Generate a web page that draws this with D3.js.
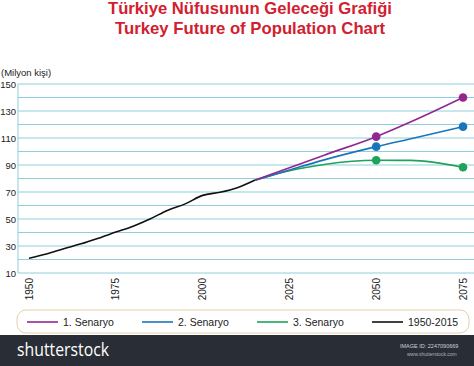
<!DOCTYPE html>
<html><head><meta charset="utf-8">
<script src="https://cdn.jsdelivr.net/npm/d3@7"></script>
<style>html,body{margin:0;padding:0;background:#fff;}svg{display:block;font-family:"Liberation Sans",Arial,sans-serif;}</style>
</head><body>
<script>
const histYears = [1950,1955,1960,1965,1970,1975,1980,1985,1990,1995,2000,2005,2010,2015];
const histValues = [20.9,24.0,28.0,31.6,35.8,40.3,44.7,50.2,56.5,61.2,67.5,69.8,73.2,78.7];
const scenYears = [2015,2025,2035,2050,2060,2075];
const scen1 = [78.7,88.0,97.3,111.0,122.0,140.0];
const scen2 = [78.7,86.3,93.8,103.6,109.5,118.4];
const scen3 = [78.7,85.8,90.4,93.5,93.4,88.3];
const dotYears = [2050,2075];
const xTicks = [1950,1975,2000,2025,2050,2075];
const yTickLabels = [10,30,50,70,90,110,130,150];
const gridValues = d3.range(10,151,10);
const legendLabels = ["1. Senaryo","2. Senaryo","3. Senaryo","1950-2015"];
const colors = ["#92278f","#1b75bb","#1fa25a","#111111"];

const W=474,H=366;
const svg=d3.select("body").append("svg").attr("width",W).attr("height",H);
const x=d3.scaleLinear().domain([1950,2075]).range([29,463]);
const y=d3.scaleLinear().domain([10,150]).range([273,84]);

// title
svg.append("text").attr("x",250).attr("y",14).attr("text-anchor","middle")
  .attr("font-size",16.5).attr("font-weight","bold").attr("fill","#d2202f")
  .attr("textLength",284).attr("lengthAdjust","spacingAndGlyphs")
  .text("Türkiye Nüfusunun Geleceği Grafiği");
svg.append("text").attr("x",250).attr("y",34).attr("text-anchor","middle")
  .attr("font-size",17).attr("font-weight","bold").attr("fill","#d2202f")
  .attr("textLength",270).attr("lengthAdjust","spacingAndGlyphs")
  .text("Turkey Future of Population Chart");

svg.append("text").attr("x",1).attr("y",76).attr("font-size",9.5).attr("fill","#222").text("(Milyon kişi)");

// grid
svg.append("g").selectAll("line").data(gridValues).join("line")
  .attr("x1",18).attr("x2",W).attr("y1",d=>y(d)).attr("y2",d=>y(d))
  .attr("stroke","#8fcfdc").attr("stroke-width",1);
svg.append("line").attr("x1",18).attr("x2",18).attr("y1",y(150)).attr("y2",y(10))
  .attr("stroke","#8fcfdc").attr("stroke-width",1);

// y labels
svg.append("g").selectAll("text").data(yTickLabels).join("text")
  .attr("x",16).attr("y",d=>y(d)+3.5).attr("text-anchor","end")
  .attr("font-size",9.5).attr("fill","#222").text(d=>d);

// x labels
svg.append("g").selectAll("text").data(xTicks).join("text")
  .attr("transform",d=>`translate(${x(d)+3.5},278) rotate(-90)`)
  .attr("text-anchor","end").attr("font-size",10).attr("fill","#222").text(d=>d);

const line=d3.line().x(d=>x(d[0])).y(d=>y(d[1])).curve(d3.curveMonotoneX);
const scens=[scen1,scen2,scen3];
scens.slice().reverse().forEach((s,ri)=>{
  const i=2-ri;
  svg.append("path").datum(scenYears.map((yr,k)=>[yr,s[k]]))
    .attr("d",line).attr("fill","none").attr("stroke",colors[i]).attr("stroke-width",1.6);
});
svg.append("path").datum(histYears.map((yr,k)=>[yr,histValues[k]]))
  .attr("d",line).attr("fill","none").attr("stroke",colors[3]).attr("stroke-width",1.6);
scens.forEach((s,i)=>{
  svg.append("g").selectAll("circle").data(dotYears).join("circle")
    .attr("cx",d=>x(d)).attr("cy",d=>y(s[scenYears.indexOf(d)])).attr("r",4.3)
    .attr("fill",colors[i]);
});

// legend
svg.append("rect").attr("x",17).attr("y",310).attr("width",452).attr("height",23).attr("rx",9)
  .attr("fill","#fff").attr("stroke","#e3cfa8").attr("stroke-width",1);
const lx=[27,142,257,372];
legendLabels.forEach((t,i)=>{
  svg.append("line").attr("x1",lx[i]).attr("x2",lx[i]+31).attr("y1",322).attr("y2",322)
    .attr("stroke",colors[i]).attr("stroke-width",1.6);
  svg.append("text").attr("x",lx[i]+36).attr("y",325.5).attr("font-size",10.5).attr("fill","#222").text(t);
});

// bottom banner
svg.append("rect").attr("x",0).attr("y",335).attr("width",W).attr("height",31).attr("fill","#292d36");
svg.append("text").attr("x",17).attr("y",356).attr("font-size",19).attr("fill","#fff")
  .attr("font-family","'Open Sans',sans-serif").attr("textLength",92).attr("lengthAdjust","spacingAndGlyphs").text("shutterstock");
svg.append("text").attr("x",400).attr("y",348).attr("font-size",5.5).attr("fill","#cfd2d8").text("IMAGE ID: 2247090669");
svg.append("text").attr("x",407).attr("y",356).attr("font-size",5).attr("fill","#aeb2ba").text("www.shutterstock.com");
</script>
</body></html>
